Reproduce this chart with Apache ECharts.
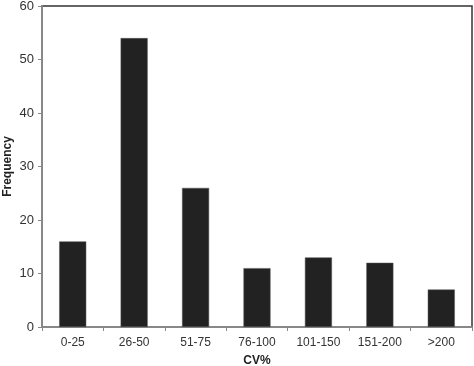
<!DOCTYPE html>
<html><head><meta charset="utf-8">
<script src="https://cdn.jsdelivr.net/npm/echarts@6/dist/echarts.min.js"></script>
<style>html,body{margin:0;padding:0;background:#fff}#c{width:474px;height:366px}</style>
</head><body><div id="c"></div>
<script>
var categories = ['0-25','26-50','51-75','76-100','101-150','151-200','>200'];
var frequency = [16, 54, 26, 11, 13, 12, 7];
var yTicks = [0, 10, 20, 30, 40, 50, 60];

var chart = echarts.init(document.getElementById('c'));
chart.setOption({
  animation: false,
  backgroundColor: '#fff',
  grid: {left: 42, right: 2, top: 6, bottom: 39, show: true, borderColor: '#333', borderWidth: 1.5,
         containLabel: false, outerBoundsMode: 'none'},
  xAxis: {
    type: 'category', data: categories,
    name: 'CV%', nameLocation: 'middle', nameGap: 28, nameMoveOverlap: false,
    nameTextStyle: {fontFamily: 'Liberation Sans', fontWeight: 'bold', fontSize: 12, color: '#222'},
    axisLine: {lineStyle: {color: '#888', width: 2}},
    axisTick: {show: true, alignWithLabel: false, length: 4, lineStyle: {color: '#888'}},
    axisLabel: {fontFamily: 'Liberation Sans', fontSize: 12, color: '#333', margin: 10}
  },
  yAxis: {
    type: 'value', min: yTicks[0], max: yTicks[yTicks.length-1], interval: 10,
    name: 'Frequency', nameLocation: 'middle', nameGap: 28, nameRotate: 90, nameMoveOverlap: false,
    nameTextStyle: {fontFamily: 'Liberation Sans', fontWeight: 'bold', fontSize: 12, color: '#222'},
    axisLine: {show: true, lineStyle: {color: '#888', width: 2}},
    axisTick: {show: true, length: 4, lineStyle: {color: '#888'}},
    splitLine: {show: false},
    axisLabel: {fontFamily: 'Liberation Sans', fontSize: 13, color: '#333', margin: 8}
  },
  series: [{
    type: 'bar', data: frequency, barWidth: '44%',
    itemStyle: {color: '#222', borderColor: '#555', borderWidth: 0.5}
  }]
});
</script></body></html>
